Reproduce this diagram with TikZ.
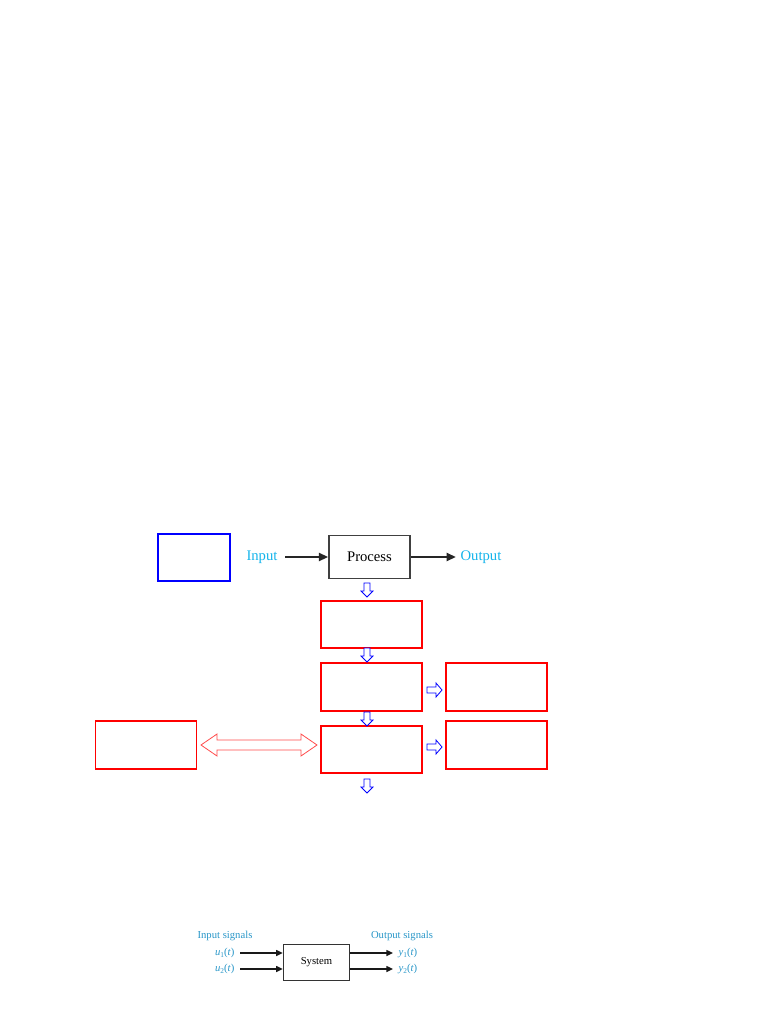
\documentclass[tikz,border=0pt]{standalone}
\usepackage{fontspec}
\setmainfont{Liberation Serif}
\usetikzlibrary{arrows.meta}
\definecolor{cyantxt}{RGB}{20,180,235}
\definecolor{tealtxt}{RGB}{40,150,200}
\tikzset{
 redbox/.style={draw=red,line width=1.3pt,minimum width=75.75pt,minimum height=35.5pt,inner sep=0pt},
 sig/.style={-{Triangle[length=7pt,width=6pt]},line width=1.6pt,draw=black!85},
 small/.style={-{Triangle[length=5pt,width=4.5pt]},line width=1pt,draw=black!90},
 lbl/.style={text=tealtxt,font=\fontsize{8}{10}\selectfont,inner sep=1pt},
 hollow/.style={draw=blue,fill=white,line width=0.6pt}
}
\newcommand{\sg}[2]{\textit{#1}\raisebox{-0.35ex}{\fontsize{5.5}{6}\selectfont #2}(\textit{t})}
\newcommand{\downarr}[2]{\draw[hollow] (#1-3,#2) -- (#1+3,#2) -- (#1+3,#2+8) -- (#1+6,#2+8) -- (#1,#2+14) -- (#1-6,#2+8) -- (#1-3,#2+8) -- cycle;}
\newcommand{\rightarr}[2]{\draw[hollow] (#1,#2-3) -- (#1+9,#2-3) -- (#1+9,#2-7) -- (#1+15,#2) -- (#1+9,#2+7) -- (#1+9,#2+3) -- (#1,#2+3) -- cycle;}
\begin{document}
\begin{tikzpicture}[x=0.75pt,y=-0.75pt]
\useasboundingbox (0,0) rectangle (768,1024);
% top
\node[draw=blue,line width=1.6pt,minimum width=54pt,minimum height=35pt,inner sep=0pt] (blue) at (194,557.5) {};
\node[text=cyantxt,font=\fontsize{11}{13}\selectfont] (in) at (262,557) {Input};
\node[draw=black!75,line width=1.2pt,minimum width=60.75pt,minimum height=32pt,inner sep=0pt,font=\fontsize{11}{13}\selectfont] (proc) at (369.5,557) {Process};
\node[text=cyantxt,font=\fontsize{11}{13}\selectfont] (out) at (481,557) {Output};
\coordinate (inr) at (285,557);
\draw[sig] (inr) -- (proc.west);
\draw[sig] (proc.east) -- (out.west);
% red boxes
\node[redbox] (a) at (371.5,624.5) {};
\node[redbox] (b) at (371.5,687) {};
\node[redbox] (c) at (371.5,749.5) {};
\node[redbox] (d) at (496.5,687) {};
\node[redbox] (e) at (496.5,745) {};
\node[redbox] (f) at (146,745) {};
% hollow arrows
\downarr{367}{583}
\downarr{367}{648}
\downarr{367}{712}
\downarr{367}{779}
\rightarr{427}{690}
\rightarr{427}{747}
\draw[draw=red!70,fill=white,line width=0.6pt] (201,745) -- (217,734) -- (217,740) -- (301,740) -- (301,734) -- (317,745) -- (301,756) -- (301,750) -- (217,750) -- (217,756) -- cycle;
% bottom
\node[draw=black!80,line width=0.6pt,minimum width=50pt,minimum height=27pt,inner sep=0pt,font=\fontsize{8}{10}\selectfont] (sys) at (316.5,962) {System};
\node[lbl] (ins) at (225,936) {Input signals};
\node[lbl] (outs) at (402,936) {Output signals};
\node[lbl,anchor=east] (u1) at (236,953) {\sg{u}{1}};
\node[lbl,anchor=east] (u2) at (236,969) {\sg{u}{2}};
\node[lbl,anchor=west] (y1) at (397,953) {\sg{y}{1}};
\node[lbl,anchor=west] (y2) at (397,969) {\sg{y}{2}};
\coordinate (u1s) at (240,953);
\coordinate (u2s) at (240,969);
\coordinate (y1e) at (393,953);
\coordinate (y2e) at (393,969);
\draw[small] (u1s) -- (sys.west |- u1s);
\draw[small] (u2s) -- (sys.west |- u2s);
\draw[small] (sys.east |- y1e) -- (y1e);
\draw[small] (sys.east |- y2e) -- (y2e);
\end{tikzpicture}
\end{document}
